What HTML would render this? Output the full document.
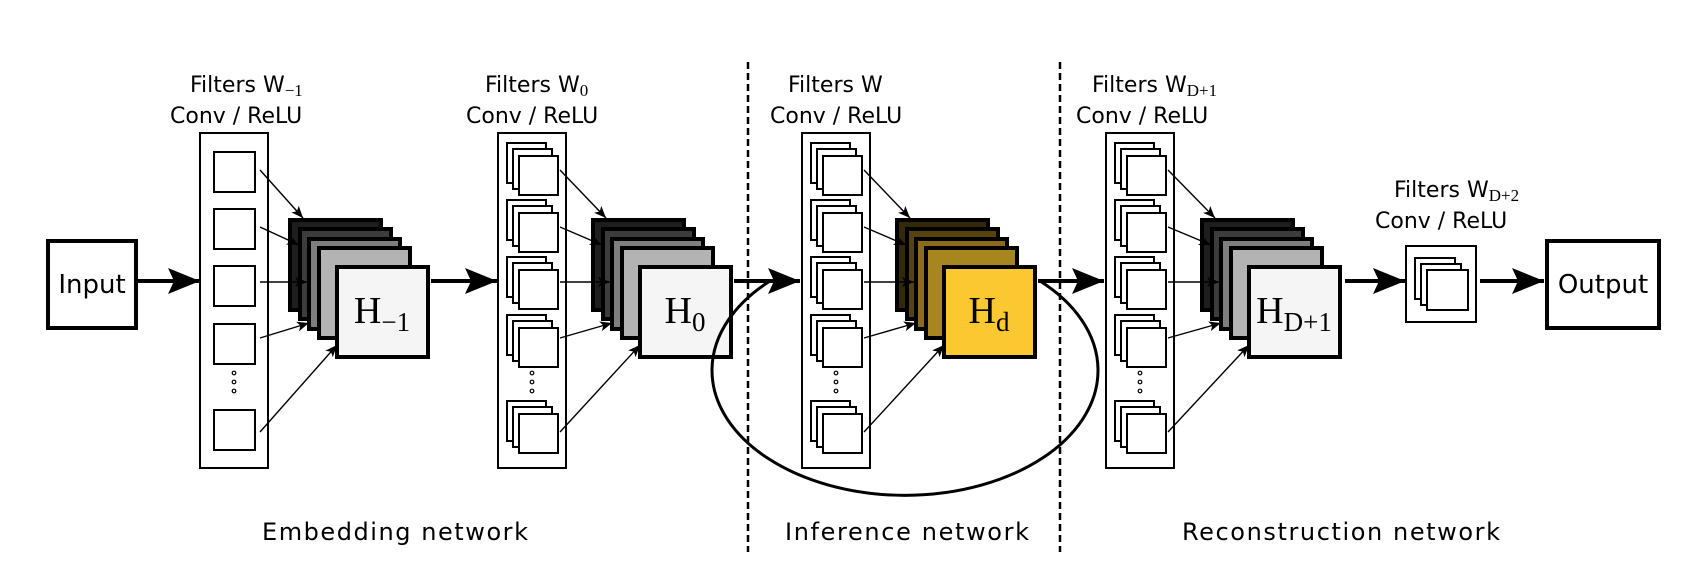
<!DOCTYPE html>
<html><head><meta charset="utf-8"><style>
html,body{margin:0;padding:0;background:#fff;}
svg{display:block;}
.t{font-family:"DejaVu Sans","Liberation Sans",sans-serif;font-size:22px;fill:#000;}
.s{font-family:"Liberation Serif",serif;}
</style></head><body>
<svg id="g" width="1700" height="586" viewBox="0 0 1700 586" xmlns="http://www.w3.org/2000/svg">
<defs>
<marker id="bigA" viewBox="0 0 32 26" refX="32" refY="13" markerWidth="32" markerHeight="26" markerUnits="userSpaceOnUse" orient="auto"><path d="M0,0 L32,13 L0,26 L6,13 z" fill="#000"/></marker>
<marker id="sm" viewBox="0 0 12 10" refX="12" refY="5" markerWidth="12" markerHeight="10" markerUnits="userSpaceOnUse" orient="auto"><path d="M0,0 L12,5 L0,10 L3,5 z" fill="#000"/></marker>
</defs>
<g id="content"></g>
<line x1="748" y1="62" x2="748" y2="552" stroke="#000" stroke-width="2.5" stroke-dasharray="7,4"/>
<line x1="1060" y1="62" x2="1060" y2="552" stroke="#000" stroke-width="2.5" stroke-dasharray="7,4"/>
<rect x="48" y="241" width="88" height="87" fill="#fff" stroke="#000" stroke-width="4"/>
<text class="t" x="92" y="293" text-anchor="middle" style="font-size:26px">Input</text>
<rect x="1547" y="241" width="112" height="87" fill="#fff" stroke="#000" stroke-width="4"/>
<text class="t" x="1603" y="293" text-anchor="middle" style="font-size:26px">Output</text>
<line x1="136" y1="281" x2="200" y2="281" stroke="#000" stroke-width="4" marker-end="url(#bigA)"/>
<line x1="431" y1="281" x2="497" y2="281" stroke="#000" stroke-width="4" marker-end="url(#bigA)"/>
<line x1="734" y1="281" x2="800" y2="281" stroke="#000" stroke-width="4" marker-end="url(#bigA)"/>
<line x1="1038" y1="281" x2="1104" y2="281" stroke="#000" stroke-width="4" marker-end="url(#bigA)"/>
<line x1="1345" y1="281" x2="1405" y2="281" stroke="#000" stroke-width="4" marker-end="url(#bigA)"/>
<line x1="1480" y1="281" x2="1544" y2="281" stroke="#000" stroke-width="4" marker-end="url(#bigA)"/>
<path d="M1040,281 A193,125 0 1 1 770,281" fill="none" stroke="#000" stroke-width="3"/>
<rect x="1406" y="246" width="70" height="76" fill="#fff" stroke="#000" stroke-width="2"/>
<rect x="1415" y="258" width="40" height="41" fill="#fff" stroke="#000" stroke-width="2"/>
<rect x="1421" y="264" width="40" height="41" fill="#fff" stroke="#000" stroke-width="2"/>
<rect x="1427" y="270" width="41" height="40" fill="#fff" stroke="#000" stroke-width="2"/>
<text class="t" x="190" y="92">Filters W<tspan class="s" font-size="17" dy="4">−1</tspan></text>
<text class="t" x="170" y="123">Conv / ReLU</text>
<text class="t" x="485" y="92">Filters W<tspan class="s" font-size="17" dy="4">0</tspan></text>
<text class="t" x="466" y="123">Conv / ReLU</text>
<text class="t" x="788" y="92">Filters W</text>
<text class="t" x="770" y="123">Conv / ReLU</text>
<text class="t" x="1092" y="92">Filters W<tspan class="s" font-size="17" dy="4">D+1</tspan></text>
<text class="t" x="1076" y="123">Conv / ReLU</text>
<text class="t" x="1394" y="197">Filters W<tspan class="s" font-size="17" dy="4">D+2</tspan></text>
<text class="t" x="1375" y="228">Conv / ReLU</text>
<text class="t" x="262" y="540" style="font-size:24px" textLength="266">Embedding network</text>
<text class="t" x="785" y="540" style="font-size:24px" textLength="244">Inference network</text>
<text class="t" x="1182" y="540" style="font-size:24px" textLength="318">Reconstruction network</text>
</svg>
<script>
(function(){
var NS="http://www.w3.org/2000/svg",g=document.getElementById("content");
function el(n,a,txt){var e=document.createElementNS(NS,n);for(var k in a)e.setAttribute(k,a[k]);if(txt)e.textContent=txt;g.appendChild(e);return e;}
function rect(x,y,w,h,f,sw){el("rect",{x:x,y:y,width:w,height:h,fill:f,stroke:"#000","stroke-width":sw});}
function column(cx,single){
  rect(cx,133,68,335,"#fff",2);
  var tops=[143,200,257,315,401];
  tops.forEach(function(t){
    if(single){rect(cx+14,t+9,41,40,"#fff",2);}
    else{rect(cx+9,t,39,40,"#fff",2);rect(cx+15,t+6,39,40,"#fff",2);rect(cx+21,t+13,39,39,"#fff",2);}
  });
  [373,382,391].forEach(function(y){el("circle",{cx:cx+34,cy:y,r:1.8,fill:"none",stroke:"#000","stroke-width":1.2});});
}
function stack(sx,cols,sub){
  var offs=[[0,0],[10,9],[19,19],[29,28]];
  for(var i=0;i<4;i++)rect(sx+offs[i][0],220+offs[i][1],91,90,cols[i],4);
  rect(sx+47,267,91,90,cols[4],4);
  var t=el("text",{x:sx+92,y:323,"text-anchor":"middle","font-family":"Liberation Serif,serif","font-size":"38"});
  t.textContent="H";
  var s=document.createElementNS(NS,"tspan");s.setAttribute("font-size","27");s.setAttribute("dy","8");s.textContent=sub;t.appendChild(s);
}
function arrows(cx,sx,single){
  var x0=cx+(single?60:62);
  var rows=[[170,sx+13,218],[227,sx+9,245],[282,sx+17,282],[338,sx+19,323],[432,sx+47,345]];
  rows.forEach(function(r){el("line",{x1:x0,y1:r[0],x2:r[1],y2:r[2],stroke:"#000","stroke-width":1.4,"marker-end":"url(#sm)"});});
}
var gray=["#1e1e1e","#3c3c3c","#7f7f7f","#b3b3b3","#f5f5f5"];
var gold=["#33290a","#56430f","#8c6c1c","#a8861f","#fcc832"];
column(200,true);stack(290,gray,"−1");arrows(200,290,true);
column(498,false);stack(593,gray,"0");arrows(498,593,false);
column(802,false);stack(897,gold,"d");arrows(802,897,false);
column(1106,false);stack(1202,gray,"D+1");arrows(1106,1202,false);
})();
</script>
</body></html>
